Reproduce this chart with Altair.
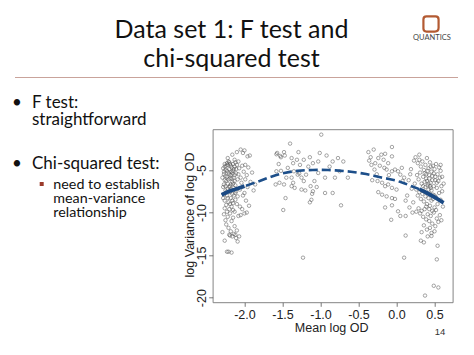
import altair as alt
import pandas as pd

# ---------------- data ----------------
left_pts = [
    (-2.22,-3.6),(-2.16,-3.2),(-2.10,-2.9),(-2.05,-2.6),(-2.00,-2.7),(-1.96,-3.4),(-2.02,-3.0),(-2.13,-3.8),
    (-2.26,-4.3),(-2.20,-4.1),(-2.18,-4.5),(-2.08,-4.0),(-1.99,-4.4),(-1.93,-3.3),
    (-2.28,-4.8),(-2.27,-5.5),(-2.26,-6.2),(-2.25,-5.0),(-2.24,-4.5),(-2.23,-5.8),(-2.22,-6.6),(-2.21,-5.3),
    (-2.20,-4.9),(-2.19,-6.0),(-2.18,-5.6),(-2.17,-4.7),(-2.16,-6.4),(-2.15,-5.1),(-2.14,-5.9),(-2.13,-4.6),
    (-2.12,-6.8),(-2.11,-5.4),(-2.10,-4.4),(-2.09,-6.1),
    (-2.28,-7.0),(-2.27,-7.9),(-2.26,-8.6),(-2.25,-7.4),(-2.24,-9.1),(-2.23,-8.0),(-2.22,-7.2),(-2.21,-8.8),
    (-2.20,-9.6),(-2.19,-7.6),(-2.18,-8.3),(-2.17,-9.3),(-2.16,-7.8),(-2.15,-8.9),(-2.14,-7.1),(-2.13,-9.9),
    (-2.12,-8.5),(-2.11,-7.5),(-2.10,-9.0),(-2.09,-8.1),
    (-2.29,-5.9),(-2.27,-6.7),(-2.25,-6.9),(-2.23,-4.2),(-2.21,-4.0),(-2.19,-6.9),(-2.17,-5.2),(-2.15,-4.3),
    (-2.13,-6.3),(-2.11,-4.9),
    (-2.08,-5.5),(-2.07,-4.8),(-2.06,-7.3),(-2.05,-5.9),(-2.04,-6.5),(-2.03,-4.5),(-2.02,-8.0),(-2.01,-5.2),
    (-2.00,-7.7),(-1.99,-6.1),(-1.98,-8.6),(-1.97,-5.6),(-1.96,-7.0),(-1.95,-4.7),(-1.94,-9.2),(-1.92,-6.4),
    (-1.90,-5.3),(-1.88,-7.4),(-1.86,-6.7),(-1.97,-10.0),(-2.03,-9.6),(-2.06,-9.3),
    (-2.27,-10.2),(-2.25,-10.9),(-2.24,-11.4),(-2.22,-10.5),(-2.21,-11.8),(-2.19,-10.1),(-2.18,-12.2),(-2.17,-11.0),
    (-2.16,-12.8),(-2.15,-10.6),(-2.14,-12.5),(-2.13,-11.6),(-2.12,-12.6),(-2.11,-13.0),(-2.10,-12.1),(-2.09,-13.4),
    (-2.29,-12.3),(-2.26,-13.3),(-2.23,-14.6),(-2.21,-14.6),(-2.17,-14.7),(-2.20,-12.6),(-2.19,-12.7),(-2.07,-12.8),
    (-2.08,-10.4),(-2.05,-10.3),(-2.00,-10.1),
    (-2.27,-5.2),(-2.26,-4.6),(-2.25,-5.7),(-2.24,-6.3),(-2.23,-5.1),(-2.22,-4.4),(-2.21,-6.1),(-2.20,-5.5),
    (-2.19,-4.3),(-2.18,-6.7),(-2.17,-6.0),(-2.16,-5.4),(-2.15,-6.6),(-2.14,-4.9),(-2.13,-5.6),(-2.12,-4.1),
    (-2.24,-7.6),(-2.22,-8.3),(-2.20,-7.0),(-2.18,-7.3),(-2.16,-8.6),(-2.14,-8.0),(-2.26,-9.5),(-2.23,-9.9),
    (-2.19,-9.0),(-2.15,-9.7),(-2.28,-8.3),(-2.12,-7.7),
]

mid_pts = [
    (-0.99,-0.85),(-1.40,-1.9),(-1.57,-3.0),(-1.48,-2.9),(-1.47,-3.3),(-1.52,-3.5),(-1.38,-3.6),(-1.29,-2.9),
    (-1.31,-3.8),(-1.22,-3.8),(-1.14,-3.5),(-1.01,-3.0),(-1.03,-4.0),(-0.84,-4.0),(-0.77,-3.6),(-1.36,-4.2),
    (-1.27,-4.4),(-1.16,-4.6),(-0.88,-4.6),(-0.70,-4.0),(-1.58,-5.15),(-1.52,-5.1),(-1.35,-5.15),(-1.30,-5.55),
    (-1.54,-6.5),(-1.59,-6.7),(-1.48,-6.7),(-1.38,-5.9),(-1.36,-6.5),(-1.34,-7.1),(-1.38,-6.9),(-1.25,-5.9),
    (-1.22,-6.3),(-1.25,-7.3),(-1.13,-6.9),(-1.10,-7.5),(-1.11,-7.8),(-1.12,-8.5),(-1.14,-8.8),(-1.46,-8.3),
    (-1.49,-9.7),(-0.94,-7.7),(-0.84,-7.7),(-0.73,-9.15),(-0.81,-5.9),(-0.75,-5.15),(-1.03,-5.35),(-0.94,-5.9),
    (-1.08,-6.3),(-1.19,-5.55),(-1.45,-5.9),(-1.43,-4.75),(-1.23,-15.3),(-1.58,-3.15),(-1.53,-3.35),(-1.55,-4.3),
    (-1.10,-4.2),(-0.92,-3.3),(-1.05,-7.0),(-1.20,-7.4),(-1.28,-5.4),
]

rmid_pts = [
    (-0.37,-2.9),(-0.34,-3.5),(-0.36,-3.9),(-0.33,-4.4),(-0.28,-4.2),(-0.24,-3.6),(-0.20,-3.2),(-0.17,-3.8),
    (-0.15,-3.1),(-0.11,-4.2),(-0.06,-3.4),(-0.16,-4.75),(-0.13,-4.95),(-0.06,-5.15),(-0.02,-4.95),(0.02,-5.15),
    (0.07,-4.75),(0.05,-5.55),(-0.29,-4.95),(-0.26,-5.5),(-0.64,-5.9),(-0.25,-6.3),(-0.19,-6.5),(-0.15,-6.9),
    (-0.11,-6.7),(-0.06,-7.1),(0.00,-7.3),(-0.24,-7.6),(-0.19,-7.9),(-0.13,-8.1),(-0.06,-8.3),(-0.02,-8.4),
    (-0.15,-9.4),(-0.06,-9.15),(0.02,-9.85),(-0.07,-10.85),(0.08,-6.3),(-0.06,-2.3),(0.12,-12.7),(0.10,-15.3),
    (0.05,-10.4),(-0.30,-2.6),(-0.22,-4.5),(0.10,-5.9),(0.12,-8.6),(-0.10,-5.6),(-0.32,-6.2),
]

right_pts = [
    (0.28,-4.2),(0.30,-3.8),(0.32,-4.6),(0.34,-4.0),(0.36,-5.0),(0.38,-4.4),(0.40,-3.6),(0.42,-4.8),
    (0.44,-4.1),(0.46,-5.2),(0.48,-4.5),(0.50,-4.9),(0.52,-4.3),(0.54,-5.5),(0.56,-4.7),(0.58,-5.1),
    (0.57,-5.9),(0.55,-6.3),
    (0.27,-5.6),(0.29,-6.1),(0.31,-5.3),(0.33,-6.6),(0.35,-5.8),(0.37,-6.4),(0.39,-5.5),(0.41,-6.8),
    (0.43,-6.0),(0.45,-6.5),(0.47,-5.7),(0.49,-6.9),(0.51,-6.2),(0.53,-7.1),(0.40,-6.3),(0.42,-6.6),
    (0.44,-6.9),(0.38,-7.0),
    (0.26,-7.3),(0.28,-8.0),(0.30,-7.6),(0.32,-8.4),(0.34,-7.8),(0.36,-8.7),(0.38,-8.1),(0.40,-9.0),
    (0.42,-8.3),(0.44,-9.2),(0.46,-8.6),(0.48,-7.9),(0.50,-9.4),(0.52,-8.2),(0.54,-9.0),(0.56,-7.7),
    (0.58,-8.5),(0.60,-7.5),(0.61,-9.3),
    (0.29,-9.5),(0.31,-10.1),(0.33,-9.8),(0.35,-10.5),(0.37,-9.6),(0.39,-10.8),(0.41,-10.2),(0.43,-11.0),
    (0.45,-10.4),(0.47,-11.3),(0.49,-10.0),(0.51,-11.6),(0.53,-10.7),(0.55,-11.1),(0.57,-10.3),(0.59,-10.9),
    (0.44,-11.8),(0.40,-12.0),(0.50,-12.2),(0.36,-11.5),(0.33,-12.3),(0.46,-12.4),
    (0.41,-12.8),(0.46,-12.75),(0.32,-13.3),(0.36,-13.5),(0.54,-13.9),(0.53,-15.5),(0.49,-18.6),(0.55,-18.8),
    (0.375,-19.75),
    (0.18,-5.5),(0.20,-7.2),(0.22,-8.8),(0.24,-6.6),(0.17,-9.4),(0.21,-10.0),(0.19,-4.9),(0.23,-3.9),
    (0.26,-9.9),(0.14,-8.0),(0.16,-6.2),(0.12,-10.4),(0.25,-3.5),(0.30,-3.2),(0.58,-4.4),(0.60,-5.8),
    (0.62,-6.6),(0.59,-6.9),
    (0.37,-5.4),(0.39,-6.0),(0.41,-5.1),(0.43,-5.6),(0.45,-4.6),(0.47,-6.2),(0.49,-5.4),(0.51,-5.8),
    (0.53,-6.5),(0.42,-7.3),(0.44,-7.8),(0.46,-7.4),(0.48,-8.4),(0.40,-7.7),(0.36,-7.5),(0.50,-8.0),
    (0.52,-9.7),(0.43,-9.6),(0.39,-9.3),(0.47,-9.8),(0.45,-7.1),(0.35,-6.9),
]

fit_x = [-2.3,-2.2,-2.1,-2.0,-1.9,-1.8,-1.7,-1.6,-1.5,-1.4,-1.3,-1.2,-1.1,-1.0,-0.9,-0.8,
         -0.7,-0.6,-0.5,-0.4,-0.3,-0.2,-0.1,0.0,0.1,0.2,0.3,0.4,0.5,0.6,0.62]
fit_y = [-7.9,-7.5,-7.2,-6.9,-6.6,-6.3,-5.95,-5.65,-5.4,-5.22,-5.1,-5.03,-5.0,-4.98,-5.0,-5.05,
         -5.12,-5.2,-5.33,-5.48,-5.67,-5.88,-6.05,-6.25,-6.55,-6.9,-7.25,-7.7,-8.2,-8.75,-8.85]

x_ticks = [-2.0, -1.5, -1.0, -0.5, 0.0, 0.5]
y_ticks = [-20, -15, -10, -5]

title_lines = ["Data set 1: F test and", "chi-squared test"]
bullet1 = "F test:\nstraightforward"
bullet2 = "Chi-squared test:"
sub_text = "need to establish\nmean-variance\nrelationship"

# ---------------- frames ----------------
pts = left_pts + mid_pts + rmid_pts + right_pts
scatter_df = pd.DataFrame({"x": [p[0] for p in pts], "y": [p[1] for p in pts]})
fit_df = pd.DataFrame({"x": fit_x, "y": fit_y})

OX, OY = 212.7, 129.3  # plot-area origin in the page
W, H = 240, 173
MINUS = "\u2212"

xscale = alt.Scale(domain=[-2.418, 0.739], nice=False, zero=False)
yscale = alt.Scale(domain=[-20.54, -0.22], nice=False, zero=False)

xaxis = alt.Axis(values=x_ticks, title=None, domain=False, grid=False, tickSize=4,
                 tickColor="#555", tickWidth=0.8, labelFont="Liberation Sans", labelFontSize=12.5,
                 labelColor="#222", labelPadding=2,
                 labelExpr=f"replace(format(datum.value,'.1f'),'{MINUS}','-')")
yaxis = alt.Axis(values=y_ticks, title=None, domain=False, grid=False, tickSize=4,
                 tickColor="#555", tickWidth=0.8, labelFont="Liberation Sans", labelFontSize=12.5,
                 labelColor="#222", labelPadding=0, labelAngle=270, labelAlign="center",
                 labelBaseline="bottom",
                 labelExpr=f"replace(format(datum.value,'.0f'),'{MINUS}','-')")

scatter = alt.Chart(scatter_df).mark_point(
    shape="circle", filled=False, size=12, stroke="#505050", strokeWidth=0.6, opacity=0.85
).encode(x=alt.X("x:Q", scale=xscale, axis=xaxis), y=alt.Y("y:Q", scale=yscale, axis=yaxis))

fit_line = alt.Chart(fit_df).mark_line(
    color="#1d4f8a", strokeWidth=2.6, strokeDash=[9, 4]
).encode(x=alt.X("x:Q", scale=xscale), y=alt.Y("y:Q", scale=yscale))

fit_thick = alt.Chart(fit_df).mark_line(color="#1b4a84", strokeWidth=3.8).encode(
    x=alt.X("x:Q", scale=xscale), y=alt.Y("y:Q", scale=yscale),
    detail="seg:N"
).transform_filter(
    "(datum.x <= -2.0) || (datum.x >= 0.3)"
).transform_calculate(seg="datum.x < 0 ? 'a' : 'b'")


def label(text, x, y, size, font="Lato", color="#111", align="left", baseline="alphabetic",
          angle=0, line_height=None):
    kw = dict(align=align, baseline=baseline, fontSize=size, font=font, color=color, angle=angle)
    if line_height is not None:
        kw.update(lineBreak="\n", lineHeight=line_height)
    return alt.Chart(pd.DataFrame({"t": [text]})).mark_text(**kw).encode(
        x=alt.value(x - OX), y=alt.value(y - OY), text="t:N")


texts = [
    label(title_lines[0], 231.5, 30, 25, align="center", baseline="middle"),
    label(title_lines[1], 231.5, 59, 25, align="center", baseline="middle"),
    label("QUANTICS", 432, 38, 7.5, font="Lato", color="#444", align="center", baseline="middle"),
    label("\u2022", 17, 108.3, 17, align="center"),
    label(bullet1, 32, 108.3, 17, line_height=16.7),
    label("\u2022", 17, 169.3, 17, align="center"),
    label(bullet2, 32, 169.3, 17),
    label(sub_text, 53.3, 188.5, 14.3, line_height=14.1),
    label("Mean log OD", 331.7, 327.5, 12.5, font="Liberation Sans", color="#222",
          align="center", baseline="middle"),
    label("log Variance of log OD", 190, 215, 12.5, font="Liberation Sans", color="#222",
          align="center", baseline="middle", angle=270),
    label("14", 440, 332, 9.5, font="Liberation Sans", color="#333", align="center", baseline="middle"),
]

one = pd.DataFrame({"a": [0]})
hrule = alt.Chart(one).mark_rule(color="#c9a39b", strokeWidth=1).encode(
    x=alt.value(15 - OX), x2=alt.value(458 - OX), y=alt.value(77.5 - OY))

square = alt.Chart(one).mark_point(shape="square", filled=True, size=16, color="#9b3b2b", opacity=1).encode(
    x=alt.value(41.7 - OX), y=alt.value(184 - OY))

logo_path = ("M -0.6 -1 L 0.6 -1 Q 1 -1 1 -0.6 L 1 0.5 Q 1 1 0.5 1 L -0.6 1 "
             "Q -1 1 -1 0.6 L -1 -0.6 Q -1 -1 -0.6 -1 Z")
logo = alt.Chart(one).mark_point(shape=logo_path, filled=False, size=230, stroke="#b35a32",
                                 strokeWidth=2.2, opacity=1).encode(
    x=alt.value(431 - OX), y=alt.value(24 - OY))

chart = alt.layer(scatter, fit_line, fit_thick, hrule, square, logo, *texts).properties(
    width=W, height=H,
    padding={"left": OX, "top": OY, "right": 474 - OX - W, "bottom": 355 - OY - H},
    autosize=alt.AutoSizeParams(type="none"),
    background="white",
).configure_view(stroke="#777", strokeWidth=0.9)

chart.save("out.html", embed_options={"renderer": "svg", "actions": False})
